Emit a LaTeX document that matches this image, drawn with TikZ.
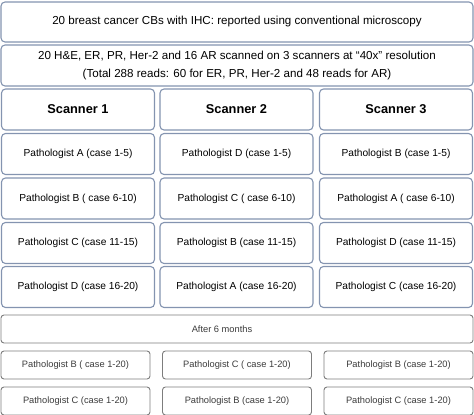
\documentclass[tikz,border=0pt]{standalone}
\usepackage{fontspec}
\setmainfont{Liberation Sans}
\usepackage{xcolor}
\definecolor{slate}{RGB}{132,148,176}
\definecolor{boxgray}{RGB}{125,125,125}
\definecolor{txtgray}{RGB}{60,60,60}

\tikzset{
	upbox/.style={draw=slate, line width=1.1pt, fill=white, rounded corners=4pt, inner sep=0pt, align=center},
	lowbox/.style={draw=boxgray, line width=0.9pt, fill=white, rounded corners=3pt, inner sep=0pt, text=txtgray, font=\fontsize{9.3}{11}\selectfont},
	pathbox/.style={upbox, minimum width=153pt, minimum height=41pt, font=\fontsize{10.2}{12}\selectfont},
	scanbox/.style={upbox, minimum width=153pt, minimum height=41pt, font=\bfseries\fontsize{12.8}{15}\selectfont},
	latebox/.style={lowbox, minimum width=149pt, minimum height=28pt}
}

\begin{document}
\begin{tikzpicture}[x=1pt, y=-1pt]
	\useasboundingbox (0,0) rectangle (474,415);
	
	% draw heading boxes
	\node[upbox, minimum width=472pt, minimum height=40pt, font=\fontsize{11.6}{14}\selectfont] (cbs) at (237,22) {20 breast cancer CBs with IHC: reported using conventional microscopy};
	\node[upbox, minimum width=472pt, minimum height=41pt, font=\fontsize{11.6}{18}\selectfont] (scanned) at (237,65.5) {20 H\&E, ER, PR, Her-2 and 16 AR scanned on 3 scanners at ``40x'' resolution\\(Total 288 reads: 60 for ER, PR, Her-2 and 48 reads for AR)};
	
	% draw scanner columns
	\node[scanbox] (scanA) at (78,109.5) {Scanner 1};
	\node[scanbox] (scanB) at (236.5,109.5) {Scanner 2};
	\node[scanbox] (scanC) at (396,109.5) {Scanner 3};
	
	% scanner 1
	\node[pathbox] (sA1) at (78,154) {Pathologist A (case 1-5)};
	\node[pathbox] (sA2) at (78,198.5) {Pathologist B ( case 6-10)};
	\node[pathbox] (sA3) at (78,243) {Pathologist C (case 11-15)};
	\node[pathbox] (sA4) at (78,287) {Pathologist D (case 16-20)};
	
	% scanner 2
	\node[pathbox] (sB1) at (236.5,154) {Pathologist D (case 1-5)};
	\node[pathbox] (sB2) at (236.5,198.5) {Pathologist C ( case 6-10)};
	\node[pathbox] (sB3) at (236.5,243) {Pathologist B (case 11-15)};
	\node[pathbox] (sB4) at (236.5,287) {Pathologist A (case 16-20)};
	
	% scanner 3
	\node[pathbox] (sC1) at (396,154) {Pathologist B (case 1-5)};
	\node[pathbox] (sC2) at (396,198.5) {Pathologist A ( case 6-10)};
	\node[pathbox] (sC3) at (396,243) {Pathologist D (case 11-15)};
	\node[pathbox] (sC4) at (396,287) {Pathologist C (case 16-20)};
	
	% draw second read
	\node[lowbox, minimum width=472pt, minimum height=28pt] (later) at (237,329) {After 6 months\hspace*{30pt}};
	\node[latebox] (rA1) at (75.5,365) {Pathologist B ( case 1-20)};
	\node[latebox] (rB1) at (237,365) {Pathologist C ( case 1-20)};
	\node[latebox] (rC1) at (398.5,365) {Pathologist B (case 1-20)};
	\node[latebox] (rA2) at (75.5,401) {Pathologist C (case 1-20)};
	\node[latebox] (rB2) at (237,401) {Pathologist B (case 1-20)};
	\node[latebox] (rC2) at (398.5,401) {Pathologist C (case 1-20)};
\end{tikzpicture}
\end{document}
